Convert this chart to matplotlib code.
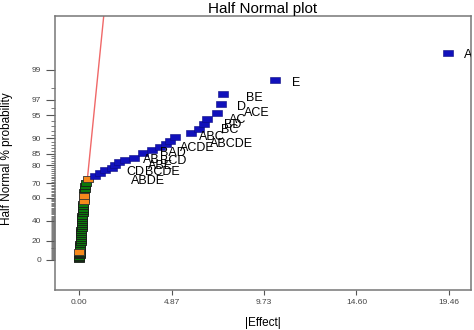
import numpy as np
import matplotlib
matplotlib.use("Agg")
import matplotlib.pyplot as plt
from statistics import NormalDist

plt.rcParams["font.family"] = ["Liberation Sans", "DejaVu Sans"]

# effects (|effect|, half normal % probability)
green_effect = [0.00, 0.01, 0.01, 0.02, 0.02, 0.03, 0.03, 0.04, 0.04, 0.05, 0.06, 0.07,
                0.07, 0.08, 0.09, 0.10, 0.10, 0.11, 0.12, 0.12, 0.13, 0.14, 0.15, 0.15,
                0.16, 0.17, 0.18, 0.19, 0.20, 0.21, 0.23, 0.25, 0.27, 0.29, 0.31, 0.33]
green_pct = [0.5, 1.5, 3, 4.5, 6, 7.5, 10, 11.5, 13, 15, 17, 19, 21, 23, 25, 27, 29, 31,
             33, 35, 37, 39, 41, 43, 45, 47, 49, 51, 53, 55, 59, 62, 64, 66, 68, 70]

orange_effect = [0.01, 0.26, 0.27, 0.48]
orange_pct = [8.6, 57.0, 60.9, 72.6]

blue_effect = [0.84, 1.10, 1.37, 1.72, 1.89, 2.10, 2.42, 2.89, 3.38, 3.84, 4.26, 4.58,
               4.79, 5.05, 5.89, 6.32, 6.55, 6.74, 7.26, 7.47, 7.59, 10.32, 19.44]
blue_pct = [74.5, 75.9, 77.4, 78.8, 80.2, 81.3, 82.5, 83.2, 85.1, 86.3, 87.4, 88.4,
            89.3, 90.3, 91.4, 92.3, 93.4, 94.3, 95.4, 96.5, 97.5, 98.5, 99.5]

# reference line through the error effects
line_effect = [0.0, 1.32]
line_pct = [0.0, 99.93]

# effect labels as placed in the picture
label_text = ["A", "E", "BE", "D", "ACE", "AC", "BD", "BC", "ABC", "ABCDE", "ACDE",
              "BAD", "ABE", "BCD", "AB", "CD", "BCDE", "ABDE"]
label_effect = [20.25, 11.19, 8.77, 8.30, 8.67, 7.88, 7.62, 7.44, 6.30, 6.88, 5.30,
                4.25, 3.62, 4.25, 3.35, 2.46, 3.46, 2.72]
label_pct = [99.44, 98.37, 97.21, 96.22, 95.32, 94.22, 93.26, 92.2, 90.4, 88.4, 87.1,
             85.3, 79.7, 82.0, 82.5, 76.4, 76.7, 71.5]

x_ticks = [0.0, 4.865, 9.73, 14.595, 19.46]
x_labels = ["0.00", "4.87", "9.73", "14.60", "19.46"]
y_ticks = [0, 20, 40, 60, 70, 80, 85, 90, 95, 97, 99]

nd = NormalDist()


def fwd(p):
    q = np.clip((1 + np.asarray(p, dtype=float) / 100) / 2, 1e-9, 1 - 1e-9)
    return np.vectorize(nd.inv_cdf)(q)


def inv(z):
    z = np.clip(np.asarray(z, dtype=float), -8, 8)
    return (2 * np.vectorize(nd.cdf)(z) - 1) * 100


rect = [(-1, -0.65), (1, -0.65), (1, 0.65), (-1, 0.65), (-1, -0.65)]

fig = plt.figure(figsize=(4.74, 3.30), dpi=100)
ax = fig.add_axes([0.116, 0.1227, 0.8777, 0.8288])
ax.set_yscale("function", functions=(fwd, inv))

ax.plot(line_effect, line_pct, color="#f06868", lw=1.0, zorder=1)
ax.plot(green_effect, green_pct, ls="none", marker=rect, ms=7, mfc="#0b7a0b",
        mec="#1a1a1a", mew=0.6, zorder=2)
ax.plot(orange_effect, orange_pct, ls="none", marker=rect, ms=7, mfc="#f5891c",
        mec="#333333", mew=0.6, zorder=3)
ax.plot(blue_effect, blue_pct, ls="none", marker=rect, ms=7, mfc="#1111bb",
        mec="#0a0a80", mew=0.4, zorder=4)

for t, xe, yp in zip(label_text, label_effect, label_pct):
    ax.text(xe, yp, t, fontsize=9, ha="left", va="center", color="black", zorder=5,
            clip_on=True)

ax.set_xlim(-1.28, 20.63)
ax.set_ylim(-31.5, 99.905)

ax.set_xticks(x_ticks)
ax.set_xticklabels(x_labels)
ax.set_yticks(y_ticks)
ax.set_yticklabels([str(v) for v in y_ticks])
ax.set_yticks([p for p in range(1, 99) if p not in y_ticks], minor=True)
ax.xaxis.set_minor_locator(matplotlib.ticker.NullLocator())

ax.tick_params(axis="x", length=3.6, width=0.8, color="#555555", labelsize=6,
               labelcolor="#444444", pad=3)
ax.tick_params(axis="y", which="major", length=6.5, width=0.8, color="#555555",
               labelsize=6, labelcolor="#444444", pad=3.5)
ax.tick_params(axis="y", which="minor", length=3, width=0.6, color="#666666")

for s in ax.spines.values():
    s.set_color("#777777")
    s.set_linewidth(1.1)

ax.set_title("Half Normal plot", fontsize=11, pad=1.5)
ax.set_xlabel("|Effect|", fontsize=8.5)
ax.xaxis.set_label_coords(0.5, -0.1)
ax.set_ylabel("Half Normal % probability", fontsize=8.5)
ax.yaxis.set_label_coords(-0.1, 0.477)

fig.savefig("out.png", dpi=100)
